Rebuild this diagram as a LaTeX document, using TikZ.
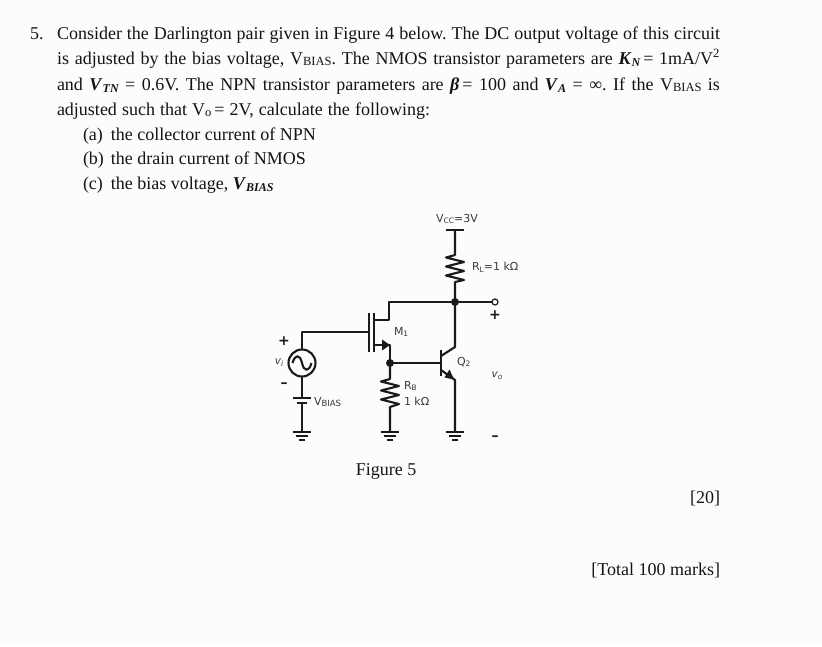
\documentclass[tikz,border=0pt]{standalone}
\usepackage{fontspec}
\setmainfont{Liberation Serif}
\newfontfamily\cirfont{DejaVu Sans}
\usetikzlibrary{arrows.meta}
\definecolor{paper}{HTML}{FCFCFC}
\definecolor{ink}{HTML}{141414}
\definecolor{wire}{HTML}{1A1A1A}
\definecolor{lab}{HTML}{3A3A3A}
\newcommand{\bi}[1]{\textbf{\textit{#1}}}
\newcommand{\smsub}[1]{\raisebox{-1.5pt}{\fontsize{12.5}{14}\selectfont #1}}
\newcommand{\bisub}[1]{\raisebox{-2pt}{\fontsize{12}{14}\selectfont\bfseries\itshape #1}}
\newcommand{\csub}[1]{\raisebox{-1.8pt}{\fontsize{7.5}{8}\selectfont #1}}
\newcommand{\itemlab}[1]{\makebox[28pt][l]{#1}}
\tikzset{
  x=1pt,y=-1pt,
  txt/.style={anchor=base west,inner sep=0pt,outer sep=0pt,text=ink,font=\fontsize{18}{22}\selectfont},
  txtr/.style={txt,anchor=base east},
  cw/.style={draw=wire,line width=2.1pt,line join=round},
  clab/.style={inner sep=0pt,outer sep=0pt,text=lab,font=\cirfont\fontsize{11}{12}\selectfont},
  vlab/.style={clab,font=\cirfont\itshape\fontsize{10.5}{11}\selectfont},
  dotn/.style={circle,fill=wire,draw=none,minimum size=8pt,inner sep=0pt,outer sep=0pt},
  opn/.style={circle,draw=wire,fill=paper,line width=1.2pt,minimum size=6pt,inner sep=0pt,outer sep=0pt},
  srcn/.style={circle,draw=wire,line width=2.1pt,minimum size=27pt,inner sep=0pt,outer sep=0pt},
  pmk/.style={inner sep=0pt,outer sep=0pt,text=wire,font=\cirfont\bfseries\fontsize{14}{14}\selectfont},
  pics/gnd/.style={code={
    \draw[cw] (-9,0) -- (9,0);
    \draw[cw] (-6,4) -- (6,4);
    \draw[cw] (-3,8) -- (3,8);
  }},
}
\frenchspacing
\begin{document}
\begin{tikzpicture}
\useasboundingbox[fill=paper] (0,0) rectangle (822,646);
% --- question text
\node[txt] (num) at (30,39) {5.};
\node[txt] (l1) at (57,39) {\hbox to 663pt{Consider the Darlington pair given in Figure 4 below. The DC output voltage of this circuit}};
\node[txt] (l2) at (57,64) {\hbox to 663pt{is adjusted by the bias voltage, V\smsub{BIAS}. The NMOS transistor parameters are \bi{K}\bisub{N}\,= 1mA/V\textsuperscript{2}}};
\node[txt] (l3) at (57,90) {\hbox to 663pt{and \bi{V}\bisub{TN} = 0.6V. The NPN transistor parameters are \bi{β}\,= 100 and \bi{V}\bisub{A} = ∞. If the V\smsub{BIAS} is}};
\node[txt] (l4) at (57,115) {\hbox to 373pt{adjusted such that V\raisebox{-1pt}{\fontsize{12.5}{14}\selectfont o}\,= 2V, calculate the following:}};
\node[txt] (pa) at (83,140) {\itemlab{(a)}the collector current of NPN};
\node[txt] (pb) at (83,164) {\itemlab{(b)}the drain current of NMOS};
\node[txt] (pc) at (83,189) {\itemlab{(c)}the bias voltage, \bi{V}\bisub{BIAS}};
\node[txt,anchor=base] (fig) at (386,475) {Figure 5};
\node[txtr] (m20) at (720,503) {[20]};
\node[txtr] (tot) at (720,575) {[Total 100 marks]};
% --- circuit anchors
\coordinate (vcc) at (455,230);
\coordinate (vccl) at (446,230);
\coordinate (vccr) at (464,230);
\coordinate (rlt) at (455,255);
\coordinate (rlb) at (455,282);
\coordinate (jop) at (455,302);
\coordinate (jsp) at (390,363);
\node[opn] (out) at (495,302) {};
\coordinate (dtop) at (389,302);
\coordinate (dbot) at (389,320);
\coordinate (dch) at (374,320);
\coordinate (sch) at (374,345);
\coordinate (sr) at (390,345);
\coordinate (gch) at (369,332);
\coordinate (gl) at (302,332);
\node[srcn] (src) at (302,363) {};
\coordinate (b1) at (302,398);
\coordinate (b2) at (302,403);
\coordinate (g1) at (302,432);
\coordinate (g2) at (390,432);
\coordinate (g3) at (455,432);
\coordinate (rbt) at (390,379);
\coordinate (rbb) at (390,407);
\coordinate (bb) at (441,363);
\coordinate (ct) at (441,356);
\coordinate (cb) at (455,347);
\coordinate (et) at (441,370);
\coordinate (eb) at (455,380);
% --- supply and load
\draw[cw] (vccl) -- (vccr);
\draw[cw] (vcc) -- (rlt) -- ++(-9,2.5) -- ++(18,4.5) -- ++(-18,4.5) -- ++(18,4.5) -- ++(-18,4.5) -- ++(18,4.5) -- (rlb) -- (jop);
\draw[cw] (jop) -- (out);
% --- MOSFET
\draw[cw] (jop) -- (dtop) -- (dbot) -- (dch);
\draw[cw] (374,313) -- (374,352);
\draw[cw] (369,313) -- (369,352);
\draw[cw] (src) -- (gl) -- (gch);
\draw[cw] (sch) -- (sr) -- (jsp);
\fill[wire] (390,345) -- (382,339.5) -- (382,350.5) -- cycle;
% --- source, battery, grounds
\draw[cw] (292.5,363) .. controls (295,354) and (300,354) .. (302,363) .. controls (304,372) and (309,372) .. (311.5,363);
\draw[cw] (src) -- (b1);
\draw[cw] (293,398) -- (311,398);
\draw[cw] (297,403) -- (307,403);
\draw[cw] (b2) -- (g1);
\pic at (g1) {gnd};
% --- RB
\draw[cw] (jsp) -- (rbt) -- ++(-9,2.5) -- ++(18,4.5) -- ++(-18,4.5) -- ++(18,4.5) -- ++(-18,4.5) -- ++(18,4.5) -- (rbb) -- (g2);
\pic at (g2) {gnd};
% --- BJT
\draw[cw] (jsp) -- (bb);
\draw[cw] (441,350) -- (441,376);
\draw[cw] (jop) -- (cb) -- (ct);
\draw[cw] (et) -- (eb) -- (g3);
\fill[wire] (454,379.5) -- (444.5,377.5) -- (449.5,369.5) -- cycle;
\pic at (g3) {gnd};
% --- junction dots, over the wires
\node[dotn] (jo) at (jop) {};
\node[dotn] (js) at (jsp) {};
% --- labels
\node[clab] (lvcc) at (457,219) {V\csub{CC}=3V};
\node[clab,anchor=west] (lrl) at (472,267) {R\csub{L}=1 kΩ};
\node[clab,anchor=west] (lm) at (394,332) {M\csub{1}};
\node[clab,anchor=west] (lq) at (457,362) {Q\csub{2}};
\node[vlab] (lvi) at (279,363) {v\csub{i}};
\node[vlab] (lvo) at (497,376) {v\csub{o}};
\node[clab,anchor=west] (lbias) at (314,402) {V\raisebox{-1.8pt}{\fontsize{8.5}{9}\selectfont BIAS}};
\node[clab,anchor=west] (lrb) at (404,386) {R\csub{B}};
\node[clab,anchor=west] (lrbv) at (404,401) {1 kΩ};
\node[pmk] (pp) at (284,341) {+};
\node[pmk] (pmi) at (284,385) {–};
\node[pmk] (op) at (495,315) {+};
\node[pmk] (om) at (495,438) {–};
\end{tikzpicture}
\end{document}
